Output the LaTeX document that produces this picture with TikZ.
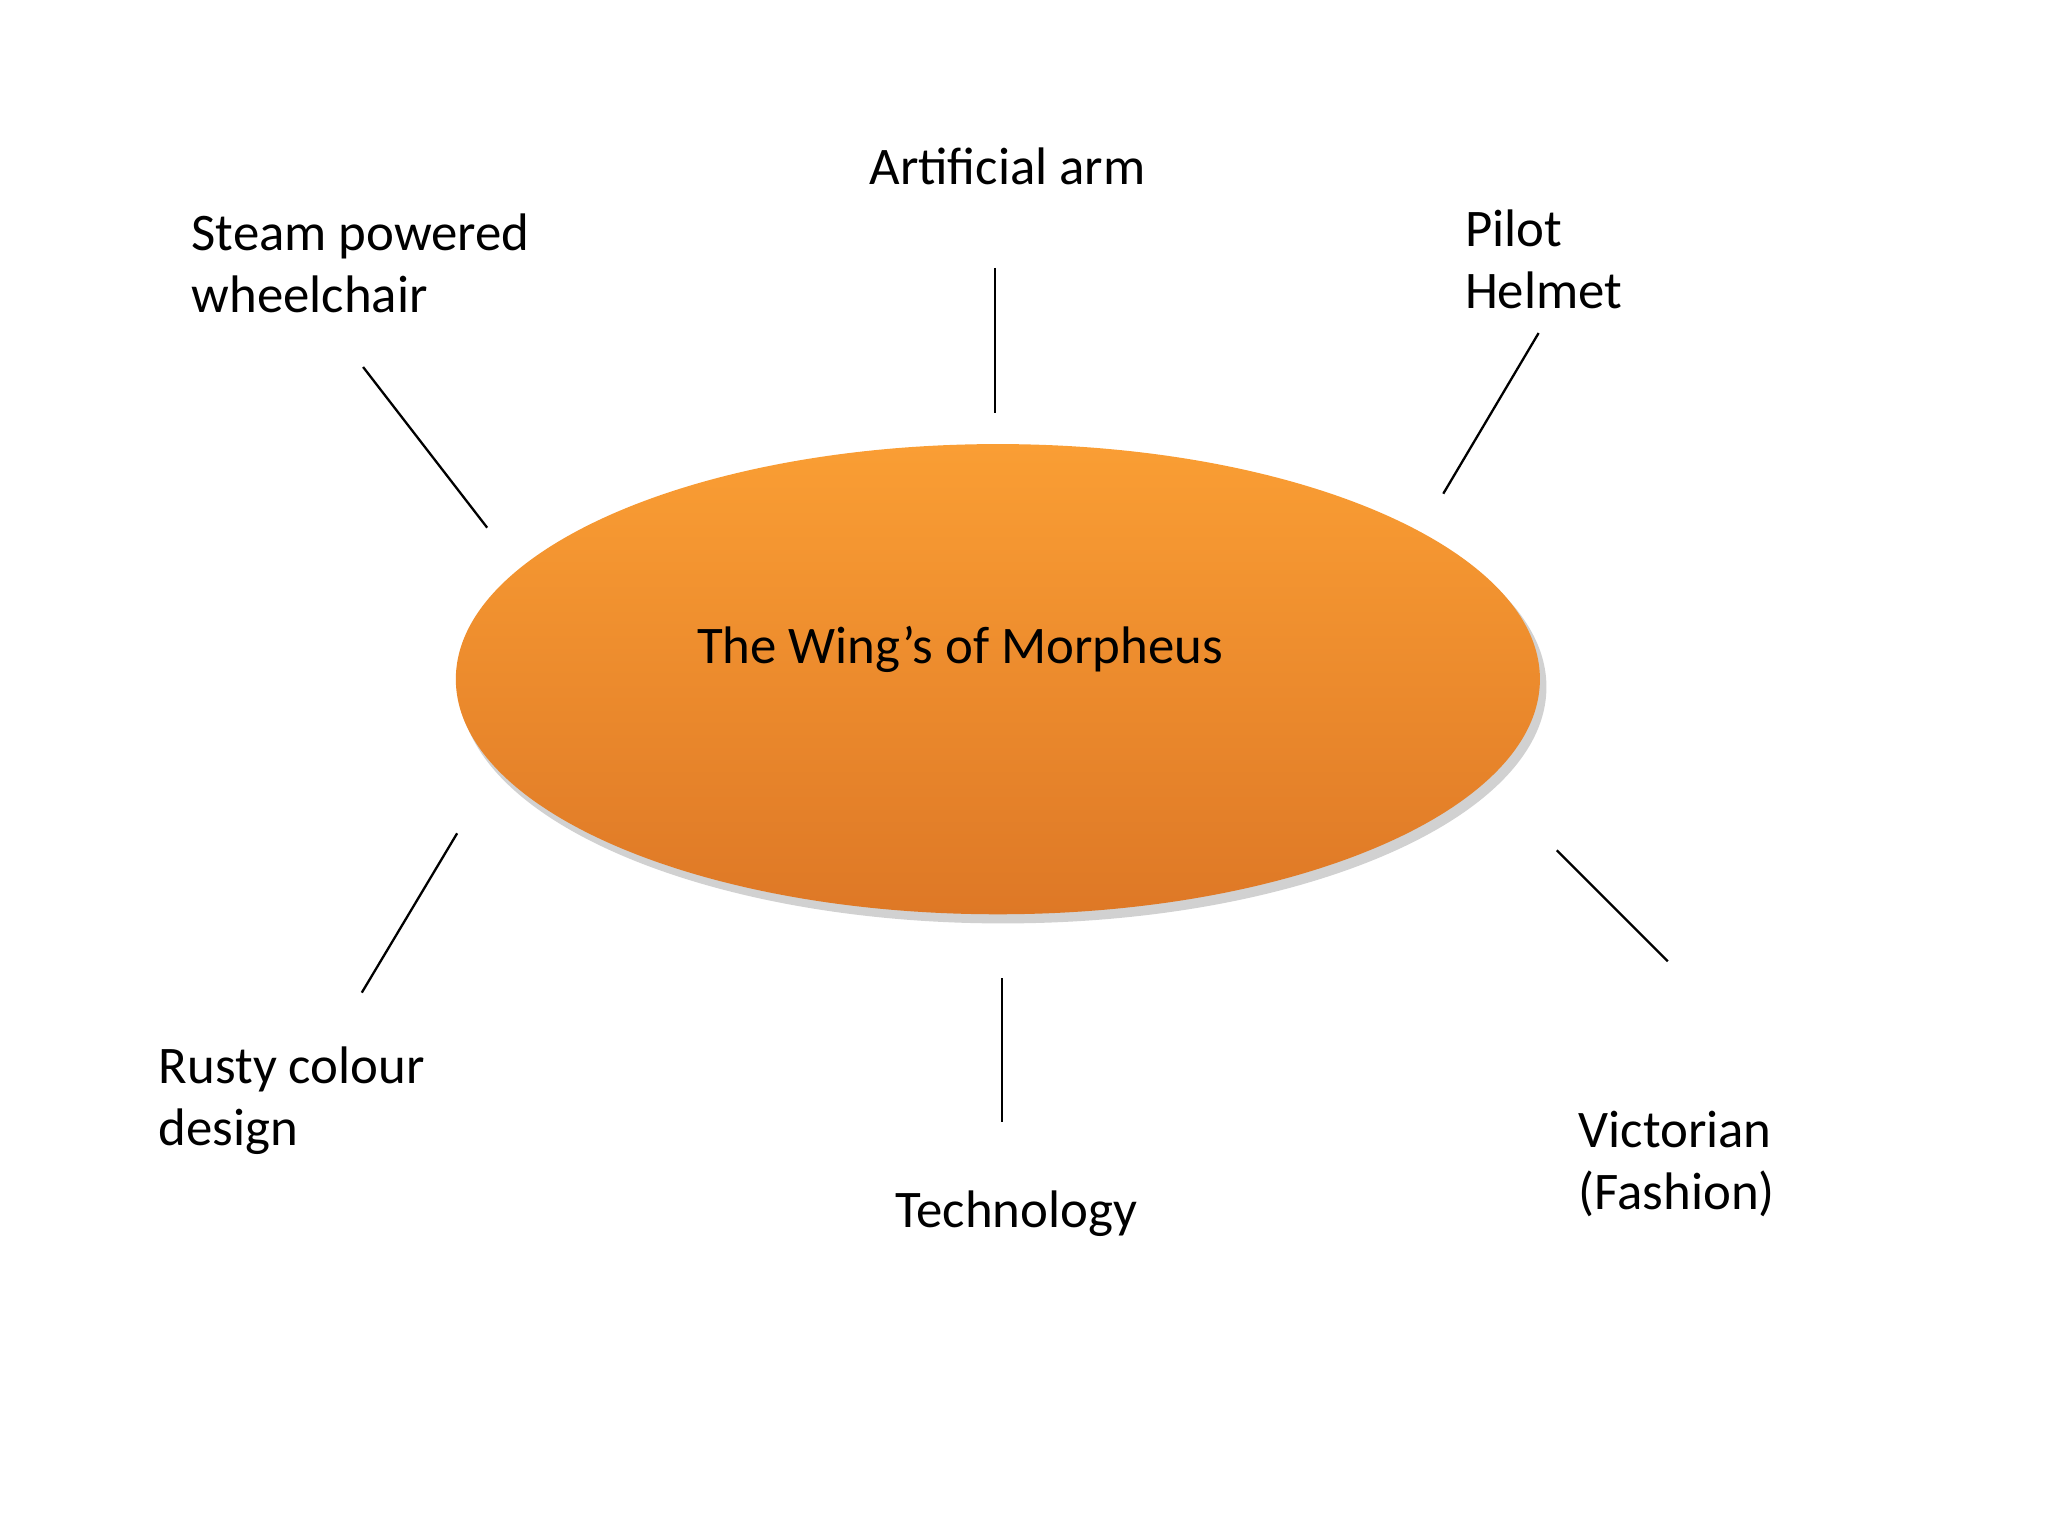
\documentclass[tikz,border=0pt]{standalone}
\usepackage{fontspec}
\setmainfont{Carlito}
\usetikzlibrary{shadows}
\begin{document}
\begin{tikzpicture}[x=0.01cm,y=-0.01cm,
  lbl/.style={font=\fontsize{11.5}{13.4}\selectfont,align=left,inner sep=0pt},
  conn/.style={draw=black,line width=0.5pt}]
\useasboundingbox (0,0) rectangle (1568,1176);
\fill[black!18] (768,526) ellipse [x radius=416, y radius=181];
\shade[top color={rgb,255:red,250;green,158;blue,52}, bottom color={rgb,255:red,222;green,120;blue,38}] (764,520) ellipse [x radius=415, y radius=180];
\node[lbl] (c) at (735,497) {The Wing’s of Morpheus};
\node[lbl,anchor=west] (t1) at (665,127) {Artificial arm};
\node[lbl,anchor=north west] (t2) at (146,163) {Steam powered\\wheelchair};
\node[lbl,anchor=north west] (t3) at (1121,160) {Pilot\\Helmet};
\node[lbl,anchor=north west] (t4) at (121,801) {Rusty colour\\design};
\node[lbl] (t5) at (778,929) {Technology};
\node[lbl,anchor=north west] (t6) at (1208,850) {Victorian\\(Fashion)};
\coordinate (a1) at (762,205); \coordinate (b1) at (762,316);
\coordinate (a2) at (278,281); \coordinate (b2) at (373,404);
\coordinate (a3) at (1178,255); \coordinate (b3) at (1105,378);
\coordinate (a4) at (350,638); \coordinate (b4) at (277,760);
\coordinate (a5) at (767,749); \coordinate (b5) at (767,859);
\coordinate (a6) at (1192,651); \coordinate (b6) at (1277,736);
\foreach \i in {1,...,6} \draw[conn] (a\i) -- (b\i);
\end{tikzpicture}
\end{document}
